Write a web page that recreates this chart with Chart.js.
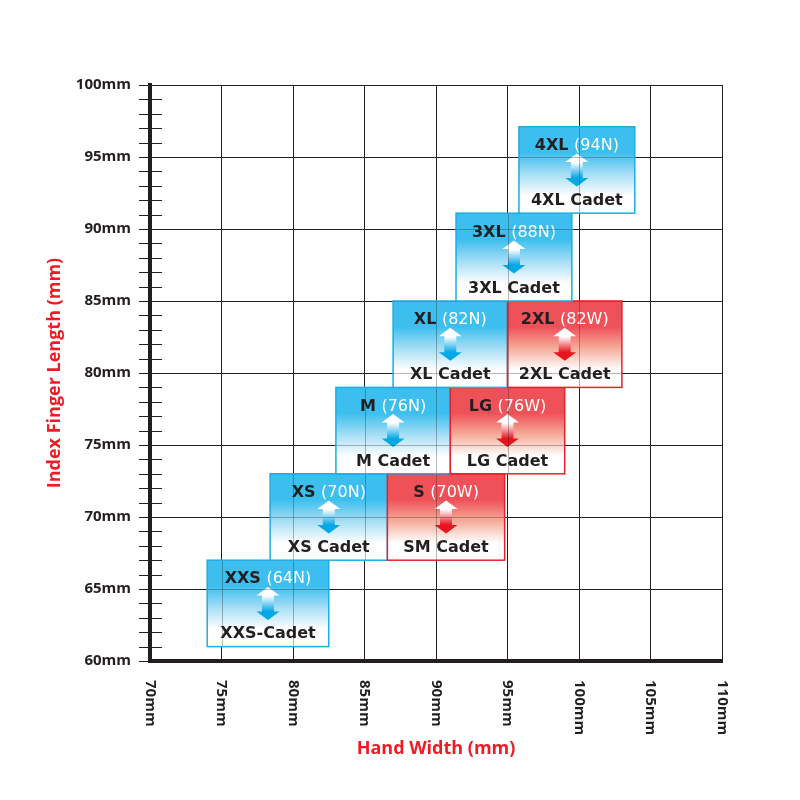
<!DOCTYPE html>
<html>
<head>
<meta charset="utf-8">
<title>Glove size chart</title>
<script src="https://cdn.jsdelivr.net/npm/chart.js@4.4.1/dist/chart.umd.min.js"></script>
<style>
  html, body { margin: 0; padding: 0; background: #fff; }
  #wrap { width: 800px; height: 800px; }
</style>
</head>
<body>
<div id="wrap"><canvas id="sizeChart" width="800" height="800"></canvas></div>
<script>
// sizes: hand width (x) vs index finger length (y)
const sizeNames  = ['XXS', 'XS', 'S', 'M', 'LG', 'XL', '2XL', '3XL', '4XL'];
const sizeCodes  = ['(64N)', '(70N)', '(70W)', '(76N)', '(76W)', '(82N)', '(82W)', '(88N)', '(94N)'];
const cadetNames = ['XXS-Cadet', 'XS Cadet', 'SM Cadet', 'M Cadet', 'LG Cadet', 'XL Cadet', '2XL Cadet', '3XL Cadet', '4XL Cadet'];
const fitType    = ['N', 'N', 'W', 'N', 'W', 'N', 'W', 'N', 'N'];
const handMin    = [74, 78.4, 86.6, 83, 91, 87, 95, 91.4, 95.8];
const handMax    = [82.5, 86.6, 94.8, 91, 99, 95, 103, 99.5, 103.9];
const fingerMin  = [61, 67, 67, 73, 73, 79, 79, 85, 91.1];
const fingerMax  = [67, 73, 73, 79, 79, 85, 85, 91.1, 97.1];

const xTicks = [70, 75, 80, 85, 90, 95, 100, 105, 110];
const yMajor = [60, 65, 70, 75, 80, 85, 90, 95, 100];

const INK = '#231f20';
const TITLE_RED = '#ed1c24';
const colors = {
  N: { top: '#3cbfee', mid: '#a6def5', border: '#1eace3', arrow: '#05a8e6' },
  W: { top: '#ef5159', mid: '#f6ad9b', border: '#e6222b', arrow: '#e8151e' }
};

function drawArrow(ctx, cx, cy, col) {
  const g = ctx.createLinearGradient(0, cy - 16.5, 0, cy + 16.5);
  g.addColorStop(0, '#ffffff');
  g.addColorStop(0.27, '#ffffff');
  g.addColorStop(0.74, col);
  g.addColorStop(1, col);
  ctx.beginPath();
  ctx.moveTo(cx, cy - 16.5);
  ctx.lineTo(cx + 11.5, cy - 8);
  ctx.lineTo(cx + 6, cy - 8);
  ctx.lineTo(cx + 6, cy + 8);
  ctx.lineTo(cx + 11.5, cy + 8);
  ctx.lineTo(cx, cy + 16.5);
  ctx.lineTo(cx - 11.5, cy + 8);
  ctx.lineTo(cx - 6, cy + 8);
  ctx.lineTo(cx - 6, cy - 8);
  ctx.lineTo(cx - 11.5, cy - 8);
  ctx.closePath();
  ctx.fillStyle = g;
  ctx.fill();
}

const sizeBoxes = {
  id: 'sizeBoxes',
  beforeDatasetsDraw(chart) {
    const { ctx, scales: { x, y } } = chart;
    ctx.save();
    for (let i = 0; i < sizeNames.length; i++) {
      const c = colors[fitType[i]];
      const l = x.getPixelForValue(handMin[i]);
      const r = x.getPixelForValue(handMax[i]);
      const t = y.getPixelForValue(fingerMax[i]);
      const b = y.getPixelForValue(fingerMin[i]);
      const h = b - t;
      const cx = (l + r) / 2;

      const g = ctx.createLinearGradient(0, t, 0, b);
      g.addColorStop(0, c.top);
      g.addColorStop(0.3, c.top);
      g.addColorStop(0.55, c.mid);
      g.addColorStop(0.8, '#ffffff');
      g.addColorStop(1, '#ffffff');
      ctx.fillStyle = g;
      ctx.fillRect(l, t, r - l, h);

      drawArrow(ctx, cx, t + h * 0.5, c.arrow);

      // top label: size name + code
      ctx.textBaseline = 'alphabetic';
      ctx.textAlign = 'left';
      const boldF = 'bold 16px "DejaVu Sans"';
      const regF = '16px "DejaVu Sans"';
      ctx.font = boldF;
      const wName = ctx.measureText(sizeNames[i]).width;
      const wSp = ctx.measureText(' ').width;
      ctx.font = regF;
      const wCode = ctx.measureText(sizeCodes[i]).width;
      let sx = cx - (wName + wSp + wCode) / 2;
      const ty = t + h * 0.2 + 6;
      ctx.font = boldF;
      ctx.fillStyle = INK;
      ctx.fillText(sizeNames[i], sx, ty);
      ctx.font = regF;
      ctx.fillStyle = '#ffffff';
      ctx.fillText(sizeCodes[i], sx + wName + wSp, ty);

      // cadet label
      ctx.font = boldF;
      ctx.fillStyle = INK;
      ctx.textAlign = 'center';
      ctx.fillText(cadetNames[i], cx, t + h * 0.835 + 6);

      // grid shows faintly through the boxes
      ctx.save();
      ctx.beginPath();
      ctx.rect(l, t, r - l, h);
      ctx.clip();
      ctx.strokeStyle = 'rgba(35,31,32,0.32)';
      ctx.lineWidth = 1;
      ctx.beginPath();
      xTicks.forEach(v => {
        const px = Math.round(x.getPixelForValue(v)) + 0.5;
        ctx.moveTo(px, t); ctx.lineTo(px, b);
      });
      yMajor.forEach(v => {
        const py = Math.round(y.getPixelForValue(v)) + 0.5;
        ctx.moveTo(l, py); ctx.lineTo(r, py);
      });
      ctx.stroke();
      ctx.restore();

      ctx.strokeStyle = c.border;
      ctx.lineWidth = 1.5;
      ctx.strokeRect(l, t, r - l, h);
    }
    ctx.restore();
  },
  afterDraw(chart) {
    const { ctx, scales: { x, y } } = chart;
    ctx.save();
    // minor ticks on the y axis, crossing the axis line
    ctx.strokeStyle = INK;
    ctx.lineWidth = 1;
    ctx.beginPath();
    y.ticks.forEach(tk => {
      if (yMajor.includes(tk.value)) return;
      const py = Math.round(y.getPixelForValue(tk.value)) + 0.5;
      ctx.moveTo(y.right - 11, py);
      ctx.lineTo(y.right + 12, py);
    });
    ctx.stroke();

    // x tick labels, turned clockwise
    ctx.font = 'bold 15px "Open Sans"';
    ctx.fillStyle = INK;
    ctx.textAlign = 'left';
    ctx.textBaseline = 'middle';
    xTicks.forEach(v => {
      ctx.save();
      ctx.translate(x.getPixelForValue(v), x.top + 19);
      ctx.rotate(Math.PI / 2);
      ctx.fillText(v + 'mm', 0, 0);
      ctx.restore();
    });
    ctx.restore();
  }
};

const majorColor = c => (yMajor.includes(c.tick.value) ? INK : 'rgba(0,0,0,0)');

new Chart(document.getElementById('sizeChart'), {
  type: 'scatter',
  data: { datasets: [] },
  options: {
    responsive: false,
    animation: false,
    devicePixelRatio: 1,
    layout: { padding: { top: 85, right: 78, left: 0, bottom: 0 } },
    plugins: { legend: { display: false }, tooltip: { enabled: false } },
    scales: {
      x: {
        type: 'linear',
        min: 70,
        max: 110,
        afterFit: s => { s.height = 139; },
        ticks: { display: false, stepSize: 5 },
        grid: { color: INK, lineWidth: 1, drawTicks: false },
        border: { color: INK, width: 4 },
        title: {
          display: true,
          text: 'Hand Width (mm)',
          color: TITLE_RED,
          font: { family: 'Open Sans', size: 18, weight: 'bold' },
          padding: { top: 0, bottom: 40 }
        }
      },
      y: {
        type: 'linear',
        min: 60,
        max: 100,
        afterFit: s => { s.width = 150; },
        ticks: {
          stepSize: 1,
          autoSkip: false,
          padding: 8,
          color: INK,
          font: { family: 'Open Sans', size: 15, weight: 'bold' },
          callback: v => (yMajor.includes(v) ? v + 'mm' : '')
        },
        grid: { color: majorColor, tickColor: majorColor, lineWidth: 1, tickLength: 11 },
        border: { color: INK, width: 4 },
        title: {
          display: true,
          text: 'Index Finger Length (mm)',
          color: TITLE_RED,
          font: { family: 'Open Sans', size: 18, weight: 'bold' },
          padding: { top: 44, bottom: 0 }
        }
      }
    }
  },
  plugins: [sizeBoxes]
});
</script>
</body>
</html>
